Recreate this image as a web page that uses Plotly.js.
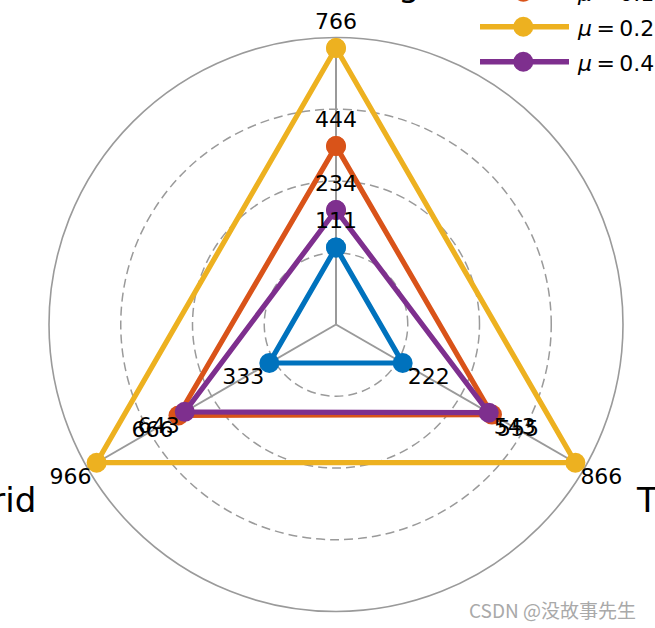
<!DOCTYPE html>
<html>
<head>
<meta charset="utf-8">
<script src="https://cdn.plot.ly/plotly-3.0.1.min.js"></script>
<style>
  html, body { margin: 0; padding: 0; overflow: hidden; background: #fff; width: 655px; height: 628px; }
  #chart { position: absolute; left: -100px; top: -100px; width: 855px; height: 828px; }
</style>
</head>
<body>
<div id="chart"></div>
<script>
// ---- data ----
const axisNames = ['Boosting', 'Tree', 'Hybrid'];
const axisAngles = [90, 330, 210];
const muLabels = ['0', '0.1', '0.2', '0.4'];
const seriesMu0 = [111, 222, 333];
const seriesMu01 = [444, 555, 666];
const seriesMu02 = [766, 866, 966];
const seriesMu04 = [234, 543, 643];
const seriesColors = ['#0072BD', '#D95319', '#EDB120', '#7E2F8E'];

const allSeries = [seriesMu0, seriesMu01, seriesMu02, seriesMu04];

// ---- geometry helpers (window pixel -> paper) ----
const W = 855, H = 828, OX = 100, OY = 100;
const px = x => (x + OX) / W;
const py = y => 1 - (y + OY) / H;

// per-axis normalisation (each axis scaled between its own min and max)
const mins = axisNames.map((_, i) => Math.min(...allSeries.map(s => s[i])));
const maxs = axisNames.map((_, i) => Math.max(...allSeries.map(s => s[i])));
const norm = s => s.map((v, i) => (v - mins[i]) / (maxs[i] - mins[i]));

const r0 = -0.386, r1 = 1.053;
const span = r1 - r0;
const rings = [0.25, 0.5, 0.75].map(f => r0 + span * f);

const traces = [];
allSeries.forEach((s, k) => {
  const rn = norm(s);
  traces.push({
    type: 'scatterpolar',
    mode: 'lines+markers',
    r: rn.concat([rn[0]]),
    theta: axisAngles.concat([axisAngles[0]]),
    line: { color: seriesColors[k], width: 5.2 },
    marker: { color: seriesColors[k], size: 20, line: { width: 0 } },
    name: '\u03bc=' + muLabels[k],
    showlegend: false,
    hoverinfo: 'skip',
    cliponaxis: false
  });
});
allSeries.forEach((s, k) => {
  traces.push({
    type: 'scatterpolar',
    mode: 'markers+text',
    r: norm(s),
    theta: axisAngles,
    text: s.map(String),
    textposition: ['top center', 'bottom right', 'bottom left'],
    textfont: { family: 'DejaVu Sans', size: 22, color: '#000' },
    marker: { size: [20.8, 6.4, 6.4], color: 'rgba(0,0,0,0)', opacity: 0, line: { width: 0 } },
    showlegend: false,
    hoverinfo: 'skip',
    cliponaxis: false
  });
});

// ---- manual legend (long line + marker, as in the reference) ----
const shapes = [];
const annotations = [];
const legY0 = -43.3, legDY = 35;
muLabels.forEach((m, k) => {
  const cy = legY0 + legDY * k;
  shapes.push({
    type: 'line', xref: 'paper', yref: 'paper',
    x0: px(480), x1: px(569), y0: py(cy), y1: py(cy),
    line: { color: seriesColors[k], width: 5.5 }
  });
  shapes.push({
    type: 'circle', xref: 'paper', yref: 'paper',
    x0: px(523.3 - 10), x1: px(523.3 + 10), y0: py(cy - 10), y1: py(cy + 10),
    fillcolor: seriesColors[k], line: { width: 0 }
  });
  annotations.push({
    xref: 'paper', yref: 'paper', x: px(575), y: py(cy + 1.7),
    xanchor: 'left', yanchor: 'middle', showarrow: false,
    text: '<i>\u03bc</i>\u2009=\u2009' + m,
    font: { family: 'DejaVu Sans', size: 22, color: '#000' }
  });
});

// ---- axis (category) labels ----
const labelFont = { family: 'DejaVu Sans', size: 34, color: '#000' };
annotations.push({ xref: 'paper', yref: 'paper', x: px(345), y: py(-16), xanchor: 'center', yanchor: 'middle',
  showarrow: false, text: axisNames[0], font: labelFont });
annotations.push({ xref: 'paper', yref: 'paper', x: px(634), y: py(500), xanchor: 'left', yanchor: 'middle',
  showarrow: false, text: axisNames[1], font: labelFont });
annotations.push({ xref: 'paper', yref: 'paper', x: px(38), y: py(500), xanchor: 'right', yanchor: 'middle',
  showarrow: false, text: axisNames[2], font: labelFont });

// watermark
annotations.push({ xref: 'paper', yref: 'paper', x: px(467), y: py(609), xanchor: 'left', yanchor: 'middle',
  showarrow: false, text: 'CSDN @没故事先生',
  font: { family: 'Noto Sans CJK SC', size: 19, color: '#a9a9a9' } });

const layout = {
  width: W, height: H,
  margin: { l: 0, r: 0, t: 0, b: 0, pad: 0 },
  paper_bgcolor: '#fff',
  showlegend: false,
  hovermode: false,
  font: { family: 'DejaVu Sans' },
  polar: {
    domain: { x: [px(49), px(623)], y: [py(611.5), py(37.5)] },
    bgcolor: '#fff',
    angularaxis: {
      type: 'linear', thetaunit: 'degrees', rotation: 0, direction: 'counterclockwise',
      tickmode: 'array', tickvals: axisAngles, showticklabels: false, ticks: '',
      showgrid: true, gridcolor: '#9a9a9a', gridwidth: 2,
      showline: true, linecolor: '#9a9a9a', linewidth: 1.6,
      layer: 'below traces'
    },
    radialaxis: {
      range: [r0, r1], tickmode: 'array', tickvals: rings,
      showticklabels: false, ticks: '', showline: false,
      showgrid: true, gridcolor: '#9a9a9a', gridwidth: 1.5, griddash: '9px,5px',
      layer: 'below traces'
    }
  },
  shapes: shapes,
  annotations: annotations
};

Plotly.newPlot('chart', traces, layout, { staticPlot: true, displayModeBar: false });
</script>
</body>
</html>
